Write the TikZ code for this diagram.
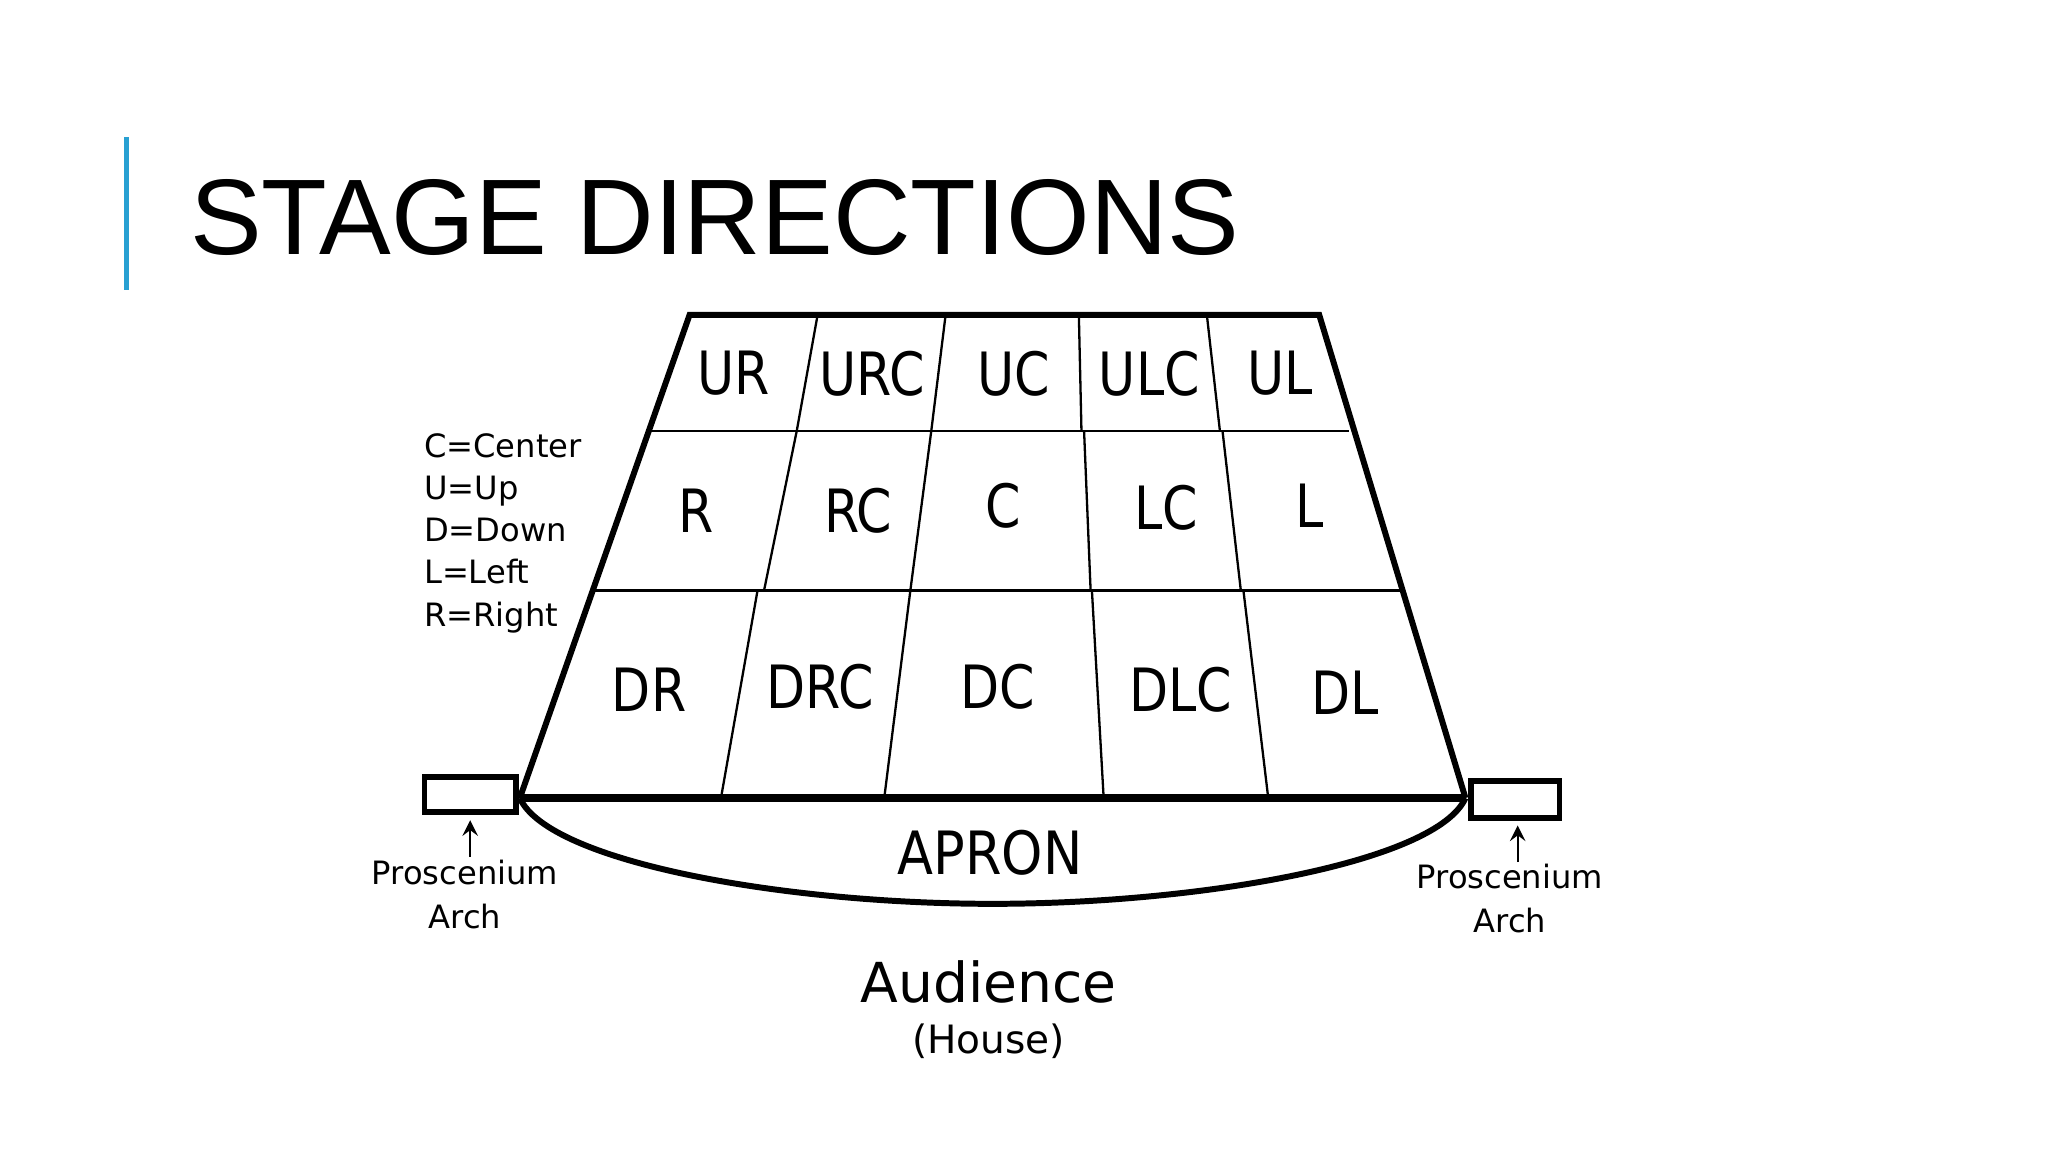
\documentclass[tikz,border=0pt]{standalone}
\usepackage{fontspec}
\setmainfont{DejaVu Sans}
\newfontfamily\titlefont{Liberation Sans}
\begin{document}
\begin{tikzpicture}[x=0.01cm,y=-0.01cm,
  cell/.style={font=\fontsize{13pt}{13pt}\selectfont\addfontfeature{FakeStretch=0.85}},
  small/.style={font=\fontsize{7pt}{8pt}\selectfont},
  thin/.style={line width=0.5pt},
  thick/.style={line width=1.3pt}]
\useasboundingbox (0,0) rectangle (1568,882);
\fill[white] (0,0) rectangle (1568,882);
\draw[color={rgb,255:red,40;green,160;blue,210}, line width=1.2pt] (97,105) -- (97,222);
\node[anchor=base west, inner sep=0, font=\titlefont\fontsize{23.4pt}{24pt}\selectfont] (title) at (145,195) {STAGE DIRECTIONS};
% stage outline
\coordinate (tl) at (528,241); \coordinate (tr) at (1010,241);
\coordinate (bl) at (398,611); \coordinate (br) at (1122,611);
\draw[thick] (bl) -- (tl) -- (tr) -- (br);
\draw[line width=1.7pt] (bl) -- (br);
\draw[thin] (498,330) -- (1033,330);
\draw[thin] (455,452) -- (1073,452);
\draw[thin] (626,241)--(610,330) (724,241)--(713,330) (826,241)--(828,330) (924,241)--(934,330);
\draw[thin] (610,330)--(585,452) (713,330)--(697,452) (830,330)--(835,452) (936,330)--(950,452);
\draw[thin] (580,452)--(552,611) (697,452)--(677,611) (836,452)--(845,611) (952,452)--(971,611);
\foreach \t/\x/\y [count=\i] in {UR/562/286,URC/668/286,UC/776/286,ULC/880/286,UL/980/286,R/533/391,RC/657/391,C/768/387,LC/893/389,L/1003/387,DR/497/528,DRC/628/526,DC/764/526,DLC/904/528,DL/1030/530}
  \node[cell] (c\i) at (\x,\y) {\t};
% apron
\draw[thick] (bl) .. controls (420,660) and (600,692) .. (760,692) .. controls (920,692) and (1100,660) .. (br);
\node[font=\fontsize{13pt}{13pt}\selectfont\addfontfeature{FakeStretch=0.88}] (apron) at (758,653) {APRON};
% arches
\draw[line width=1.3pt] (325,595) rectangle (395,622);
\draw[line width=1.3pt] (1126,598) rectangle (1194,626);
\node[small,align=center] (pl) at (356,685) {Proscenium\\[1.5pt]Arch};
\node[small,align=center] (pr) at (1156,688) {Proscenium\\[1.5pt]Arch};
\draw[->,thin,>=stealth] (360,656) -- (360,628);
\draw[->,thin,>=stealth] (1162,660) -- (1162,632);
% legend
\node[small,anchor=north west,align=left,inner sep=0] (leg) at (324,331) {C=Center\\[1.2pt]U=Up\\[1.2pt]D=Down\\[1.2pt]L=Left\\[1.2pt]R=Right};
\node[font=\fontsize{12pt}{12pt}\selectfont] (aud) at (757,752) {Audience};
\node[font=\fontsize{8.5pt}{9pt}\selectfont] (house) at (757,797) {(House)};
\end{tikzpicture}
\end{document}
